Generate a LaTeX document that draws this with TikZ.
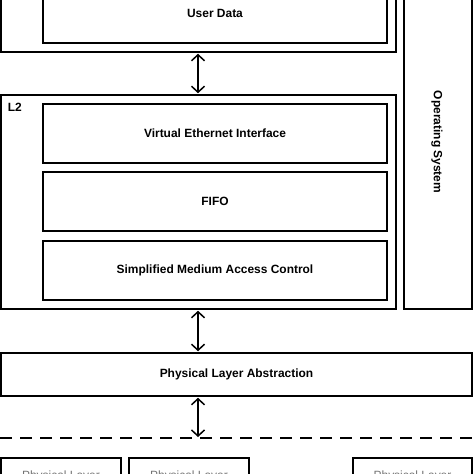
\documentclass[tikz,border=0pt]{standalone}
\usepackage{fontspec}
\setmainfont{Liberation Sans}
\usetikzlibrary{arrows.meta}
\begin{document}
\begin{tikzpicture}[x=1bp, y=-1bp]
\tikzset{ >={Straight Barb[length=6bp, width=13bp, line width=1.5bp]},
  box/.style={draw, line width=1.5bp, inner sep=0pt, font=\fontsize{12}{14}\selectfont\bfseries},
  lab/.style={box, draw=none},
  link/.style={<->, line width=1.5bp, shorten <=1bp, shorten >=1bp},
  phy/.style={lab, text=black!55, font=\fontsize{12}{14}\selectfont},
}

\useasboundingbox (0,0) rectangle (474,474);
\clip (0,0) rectangle (474,474);

% upper layer
\node [box, minimum width=395bp, minimum height=78bp] (top) at (198.5,13) {};
\node [box, minimum width=344bp, minimum height=60bp] (user) at (215,13) {User Data};

% L2
\node [box, minimum width=395bp, minimum height=214bp] (l2) at (198.5,202) {};
\node [lab, anchor=west] (l2lab) at (7,107) {L2};
\node [box, minimum width=344bp, minimum height=59bp] (vei)  at (215,133.5) {Virtual Ethernet Interface};
\node [box, minimum width=344bp, minimum height=59bp] (fifo) at (215,201.5) {FIFO};
\node [box, minimum width=344bp, minimum height=59bp] (smac) at (215,270.5) {Simplified Medium Access Control};

% operating system
\node [box, minimum width=68bp, minimum height=334bp] (os) at (438,142) {};
\node [lab, rotate=-90] (oslab) at (437,142) {Operating System};

% abstraction
\node [box, minimum width=471bp, minimum height=43bp] (pla) at (236.5,374.5) {Physical Layer Abstraction};

% dashed border
\coordinate (dl) at (0,438);
\coordinate (dr) at (474,438);
\draw [line width=1.5bp, dash pattern=on 12bp off 8bp] (dl) -- (dr);

% physical layers
\node [box, minimum width=120bp, minimum height=40bp, anchor=north] (p1) at (61,457)  {};
\node [box, minimum width=120bp, minimum height=40bp, anchor=north] (p2) at (189,457) {};
\node [box, minimum width=119bp, minimum height=40bp, anchor=north] (p3) at (412.5,457) {};
\node [phy] (p1t) at (61,476)  {Physical Layer};
\node [phy] (p2t) at (189,476) {Physical Layer};
\node [phy] (p3t) at (412.5,476) {Physical Layer};

% arrows
\coordinate (ax) at (198,0);
\draw [link] (ax |- top.south) -- (ax |- l2.north);
\draw [link] (ax |- l2.south)  -- (ax |- pla.north);
\draw [link] (ax |- pla.south) -- (ax |- dl);

\end{tikzpicture}
\end{document}
